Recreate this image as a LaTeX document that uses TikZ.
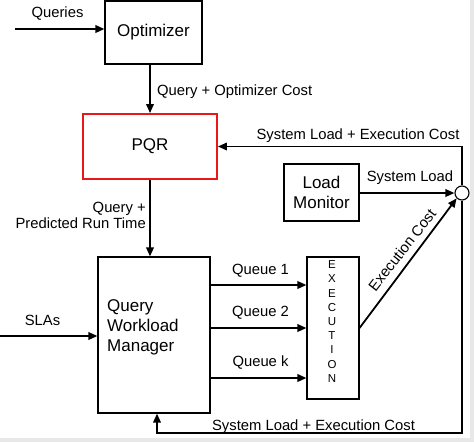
\documentclass[tikz,border=0pt]{standalone}
\usepackage{fontspec}
\setmainfont{Liberation Sans}
\usetikzlibrary{arrows.meta}
\definecolor{pqrred}{RGB}{232,24,24}
\begin{document}
\begin{tikzpicture}[x=1pt,y=-1pt,
  box/.style={draw,line width=1.1pt,inner sep=0pt,font=\fontsize{17}{20}\selectfont},
  lbl/.style={inner sep=0pt,font=\fontsize{14.8}{16}\selectfont},
  conn/.style={line width=1.8pt,-{Triangle[length=9pt,width=7.5pt]}},
  plainline/.style={line width=1.8pt}]
\fill[gray!18] (0,0) rectangle (474,442);
\fill[white] (0,0) rectangle (470,438);
\useasboundingbox (0,0) rectangle (474,442);
% boxes
\node[box,minimum width=97pt,minimum height=63pt] (opt) at (153.5,32.5) {Optimizer};
\node[box,draw=pqrred,line width=1.8pt,minimum width=134pt,minimum height=65pt] (pqr) at (150,146.5) {PQR};
\node[box,minimum width=75pt,minimum height=57pt,align=center] (lm) at (321.5,192.5) {Load\\Monitor};
\node[box,minimum width=112pt,minimum height=156pt] (qwm) at (154,335) {};
\node[inner sep=0pt,anchor=west,align=left,font=\fontsize{17}{20}\selectfont] (qwmt) at (107,327) {Query\\Workload\\Manager};
\node[box,minimum width=52pt,minimum height=142pt] (exe) at (333,328) {};
\node[inner sep=0pt,align=center,font=\fontsize{11.5}{14.2}\selectfont] (exet) at (332,321.5) {E\\X\\E\\C\\U\\T\\I\\O\\N};
\node[circle,draw,line width=1.1pt,minimum size=14pt,inner sep=0pt] (circ) at (462,193) {};
% free ends
\coordinate (qin) at (15,29);
\coordinate (slain) at (0,336);
\coordinate (fb) at (157,433);
% connectors
\draw[conn] (qin) -- (qin -| opt.west);
\draw[conn] (pqr.north |- opt.south) -- (pqr.north);
\draw[conn] (pqr.south) -- (pqr.south |- qwm.north);
\draw[conn] (slain) -- (slain -| qwm.west);
\draw[conn] (qwm.east |- 0,285) -- (exe.west |- 0,285);
\draw[conn] (qwm.east |- 0,328) -- (exe.west |- 0,328);
\draw[conn] (qwm.east |- 0,378) -- (exe.west |- 0,378);
\draw[conn] (exe.east) -- (circ.south west);
\draw[conn] (lm.east |- circ.west) -- (circ.west);
\draw[conn] (circ.north) |- (pqr.east);
\draw[conn] (circ.south) |- (fb) -- (fb |- qwm.south);
% labels
\node[lbl] (lq) at (57.5,14) {Queries};
\node[lbl,anchor=west] (loc) at (157,92) {Query + Optimizer Cost};
\node[lbl] (lsl1) at (358,136) {System Load + Execution Cost};
\node[lbl] (lsl) at (410,178) {System Load};
\node[lbl,anchor=east,align=right] (lpr) at (146,215) {Query +\\Predicted Run Time};
\node[lbl] (lsla) at (42.5,320) {SLAs};
\node[lbl] (lq1) at (260.5,271) {Queue 1};
\node[lbl] (lq2) at (260.5,313) {Queue 2};
\node[lbl] (lqk) at (260.5,363) {Queue k};
\node[lbl] (lsl2) at (313.5,427) {System Load + Execution Cost};
\node[lbl,rotate=52] (lec) at (402,250) {Execution Cost};
\end{tikzpicture}
\end{document}
